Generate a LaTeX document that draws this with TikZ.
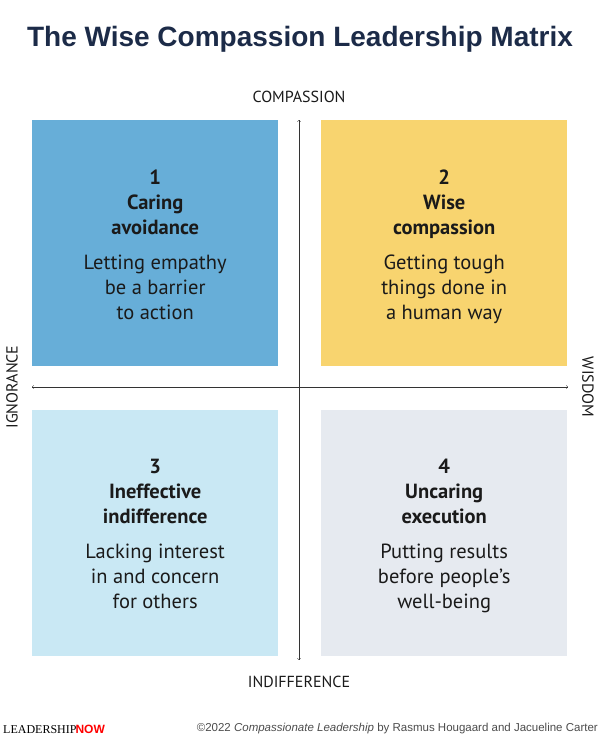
\documentclass[tikz,border=0pt]{standalone}
\usepackage{fontspec}
\setmainfont{PT Sans}
\newfontfamily\arialfont{Liberation Sans}
\usetikzlibrary{positioning}
\definecolor{navy}{HTML}{1C2B48}
\definecolor{qblue}{HTML}{67AED8}
\definecolor{qyellow}{HTML}{F8D46F}
\definecolor{qlight}{HTML}{C9E8F4}
\definecolor{qgrey}{HTML}{E6EAF0}
\definecolor{txt}{HTML}{1A1A1A}
\tikzset{
  quad/.style={minimum width=246pt, minimum height=246pt, inner sep=0pt, anchor=north west},
  qtext/.style={align=center, font=\fontsize{20.5}{25}\selectfont, text=txt},
  axis/.style={font=\fontsize{16}{18}\selectfont, text=txt}
}
\begin{document}
\begin{tikzpicture}[x=1pt,y=-1pt]
  \useasboundingbox (0,0) rectangle (600,755);
  \node[font=\arialfont\bfseries\fontsize{28}{32}\selectfont, text=navy] (title) at (300,39) {The Wise Compassion Leadership Matrix};

  \node[quad, fill=qblue] (q1) at (32,120) {};
  \node[quad, fill=qyellow] (q2) at (321,120) {};
  \node[quad, fill=qlight] (q3) at (32,410) {};
  \node[quad, fill=qgrey] (q4) at (321,410) {};

  \node[qtext, anchor=north] at ([yshift=-46pt]q1.north) {\textbf{1}\\\textbf{Caring}\\\textbf{avoidance}\\[10pt]Letting empathy\\be a barrier\\to action};
  \node[qtext, anchor=north] at ([yshift=-46pt]q2.north) {\textbf{2}\\\textbf{Wise}\\\textbf{compassion}\\[10pt]Getting tough\\things done in\\a human way};
  \node[qtext, anchor=north] at ([yshift=-46pt]q3.north) {\textbf{3}\\\textbf{Ineffective}\\\textbf{indifference}\\[10pt]Lacking interest\\in and concern\\for others};
  \node[qtext, anchor=north] at ([yshift=-46pt]q4.north) {\textbf{4}\\\textbf{Uncaring}\\\textbf{execution}\\[10pt]Putting results\\before people’s\\well-being};

  \coordinate (top) at (299,120);
  \coordinate (bottom) at (299,660);
  \coordinate (left) at (32,387);
  \coordinate (right) at (568,387);
  \draw[<->, black!80] (bottom) -- (top);
  \draw[<->, black!80] (left) -- (right);

  \node[axis] (compassion) at (299,97) {COMPASSION};
  \node[axis] (indifference) at (299,682) {INDIFFERENCE};
  \node[axis, rotate=90] (ignorance) at (12,387) {IGNORANCE};
  \node[axis, rotate=-90] (wisdom) at (588,387) {WISDOM};

  \node[anchor=west, inner sep=0pt, font=\fontsize{12}{14}\selectfont] (logo) at (3,729) {{\fontspec{Liberation Serif}LEADERSHIP}\kern-1pt\textcolor{red}{\arialfont\bfseries NOW}};
  \node[anchor=east, inner sep=0pt, font=\arialfont\fontsize{11.5}{13}\selectfont, text=black!70] (credit) at (598,729) {©2022 \textit{Compassionate Leadership} by Rasmus Hougaard and Jacueline Carter};
\end{tikzpicture}
\end{document}
